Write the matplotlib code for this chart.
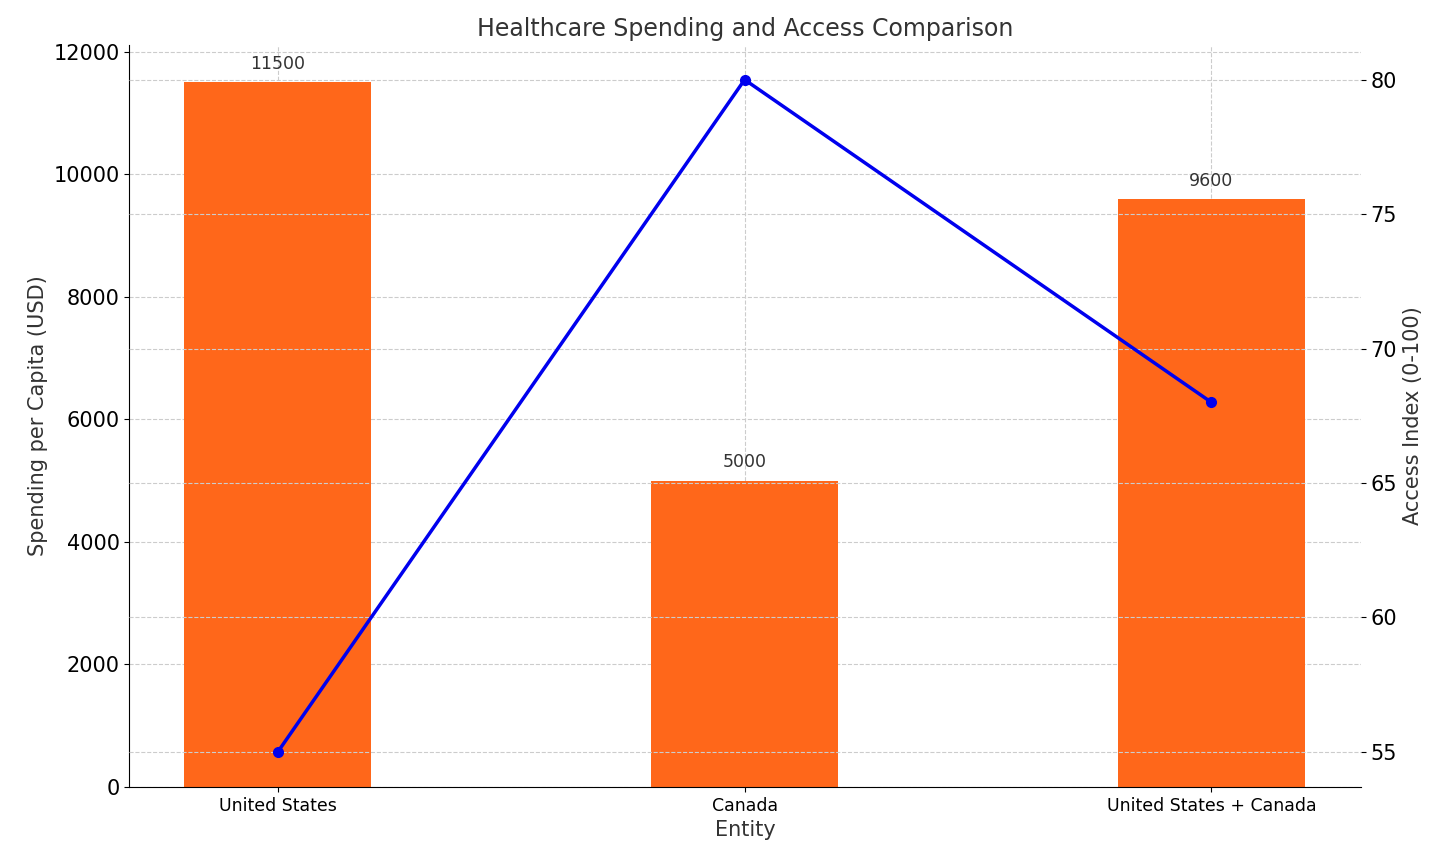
import matplotlib
matplotlib.use('Agg')
import matplotlib.pyplot as plt

entities = ['United States', 'Canada', 'United States + Canada']
spending = [11500, 5000, 9600]
access_index = [55, 80, 68]

plt.rcParams['text.color'] = '#333333'
plt.rcParams['axes.labelcolor'] = '#333333'

fig, ax = plt.subplots(figsize=(14.37, 8.6), dpi=100)
fig.subplots_adjust(left=0.09, right=0.947, top=0.948, bottom=0.085)

x = list(range(len(entities)))
bars = ax.bar(x, spending, width=0.4, color='#FF671A', zorder=2)
for xi, v in zip(x, spending):
    ax.text(xi, v + 150, str(v), ha='center', va='bottom', fontsize=12.5)
ax.set_ylim(0, 12114)
ax.set_xlim(-0.318, 2.32)
ax.set_xticks(x)
ax.set_xticklabels(entities, fontsize=12.5)
ax.tick_params(axis='y', labelsize=15)
ax.set_xlabel('Entity', fontsize=15)
ax.set_ylabel('Spending per Capita (USD)', fontsize=15)
ax.set_title('Healthcare Spending and Access Comparison', fontsize=17)
ax.grid(True, linestyle='--', color='#cccccc', zorder=0)
ax.set_axisbelow(True)
ax.spines['top'].set_visible(False)
ax.spines['right'].set_visible(False)

ax2 = ax.twinx()
ax2.plot(x, access_index, color='#0000ee', linewidth=2.5, marker='o', markersize=7)
ax2.set_ylim(53.7, 81.3)
ax2.set_ylabel('Access Index (0-100)', fontsize=15)
ax2.tick_params(axis='y', labelsize=15)
ax2.grid(True, axis='y', linestyle='--', color='#cccccc')
for s in ['top', 'right', 'left', 'bottom']:
    ax2.spines[s].set_visible(False)

plt.savefig('out.png', dpi=100)
